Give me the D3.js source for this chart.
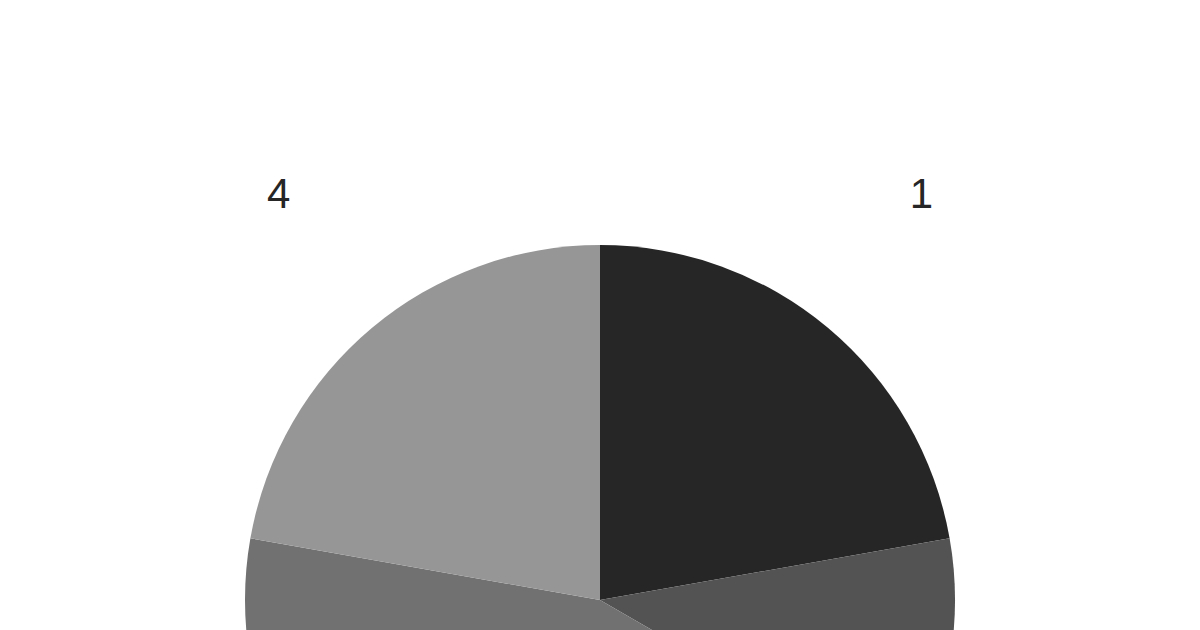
<!DOCTYPE html>
<html>
<head>
<meta charset="utf-8">
<script src="https://cdn.jsdelivr.net/npm/d3@7"></script>
<style>
  html, body { margin: 0; padding: 0; background: #fff; overflow: hidden; }
  .label { font-family: "Liberation Sans", Arial, Helvetica, sans-serif; }
</style>
</head>
<body>
<div id="vis"></div>
<script>
const width = 1200;
const height = 630;
const categories = ["1", "2", "3", "4"];
const values = [2, 1, 4, 2];
const colors = ["#262626", "#535353", "#717171", "#969696"];

const cx = 600, cy = 600;
const radius = 355;
const labelRadius = 500;

const svg = d3.select("#vis")
    .append("svg")
    .attr("width", width)
    .attr("height", height)
    .append("g")
    .attr("transform", `translate(${cx},${cy})`);

const colorScale = d3.scaleOrdinal(categories, colors);

const pie = d3.pie()
    .value((d, i) => values[i])
    .sort(null);

const arcs = pie(categories);

const arc = d3.arc().innerRadius(0).outerRadius(radius);
const labelArc = d3.arc().innerRadius(labelRadius).outerRadius(labelRadius);

svg.selectAll(".slice")
    .data(arcs)
    .enter()
    .append("path")
    .attr("class", "slice")
    .attr("d", arc)
    .style("fill", (d) => colorScale(d.data));

// labels for slices 2 and 3 fall below the visible area, as in the original
svg.selectAll(".label")
    .data(arcs)
    .enter()
    .append("text")
    .attr("class", "label")
    .attr("transform", (d) => {
        const [x, y] = labelArc.centroid(d);
        return `translate(${x},${y - 9})`;
    })
    .attr("text-anchor", "middle")
    .attr("font-family", "Liberation Sans, Arial, sans-serif")
    .style("font-size", "42px")
    .style("fill", "#262626")
    .text((d) => d.data);
</script>
</body>
</html>
